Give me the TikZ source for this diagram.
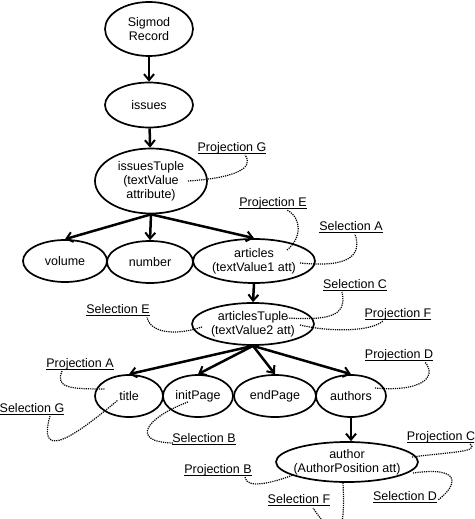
\documentclass[tikz,border=0pt]{standalone}
\usepackage{fontspec}
\setmainfont{Liberation Sans}
\usetikzlibrary{shapes.geometric,arrows.meta,calc}
\newcommand{\ulbl}[1]{\setbox0\hbox{#1}\rlap{\copy0}\rule[-3.2pt]{\wd0}{1.5pt}}

\begin{document}
\begin{tikzpicture}[x=1pt,y=-1pt,
        elem/.style={draw,ellipse,line width=1.7pt,inner sep=0pt,align=center,font=\fontsize{12.5}{14}\selectfont},
        edge/.style={line width=2.5pt,-{Straight Barb[length=6pt,width=10pt,line width=2pt]}},
        tag/.style={anchor=base,inner sep=1pt,font=\fontsize{12.5}{14}\selectfont},
        link/.style={densely dotted,line width=1.2pt}]
        \clip (0,0) rectangle (474,519);

        \node [elem,minimum width=88pt,minimum height=54pt] at (149,29) (sigmod) {Sigmod\\Record};
        \node [elem,minimum width=88pt,minimum height=45pt] at (149,105) (issues) {issues};
        \node [elem,minimum width=112pt,minimum height=65pt] at (151,181) (issuesTuple) {issuesTuple\\(textValue\\attribute)};
        \node [elem,minimum width=84pt,minimum height=42pt] at (65,261) (volume) {volume};
        \node [elem,minimum width=86pt,minimum height=42pt] at (150,262) (number) {number};
        \node [elem,minimum width=122pt,minimum height=44pt] at (254,261) (articles) {articles\\(textValue1 att)};
        \node [elem,minimum width=122pt,minimum height=42pt] at (253,324) (articlesTuple) {articlesTuple\\(textValue2 att)};
        \node [elem,minimum width=68pt,minimum height=42pt] at (129,396) (title) {title};
        \node [elem,minimum width=70pt,minimum height=42pt] at (198,396) (initPage) {initPage};
        \node [elem,minimum width=82pt,minimum height=42pt] at (275,396) (endPage) {endPage};
        \node [elem,minimum width=70pt,minimum height=42pt] at (351,396) (authors) {authors};
        \node [elem,inner xsep=-4pt,minimum width=142pt,minimum height=40pt] at (347,462) (author) {author\\(AuthorPosition att)};

        \draw [edge] (sigmod) -- (issues);
        \draw [edge] (issues) -- (issuesTuple);
        \draw [edge] (issuesTuple.south) -- (volume.north);
        \draw [edge] (issuesTuple.south) -- (number.north);
        \draw [edge] (issuesTuple.south) -- (articles.north);
        \draw [edge] (articles.south) -- (articlesTuple.north);
        \draw [edge] (articlesTuple.south) -- (title.north);
        \draw [edge] (articlesTuple.south) -- (initPage.north);
        \draw [edge] (articlesTuple.south) -- (endPage.north);
        \draw [edge] (articlesTuple.south) -- (authors.north);
        \draw [edge] (authors.south) -- (authors.south |- author.north);

        \node [tag] at (232,151) (projG) {\ulbl{Projection G}};
        \node [tag] at (273,206) (projE) {\ulbl{Projection E}};
        \node [tag] at (351,230) (selA) {\ulbl{Selection A}};
        \node [tag] at (355,288) (selC) {\ulbl{Selection C}};
        \node [tag] at (398,317) (projF) {\ulbl{Projection F}};
        \node [tag] at (118,313) (selE) {\ulbl{Selection E}};
        \node [tag] at (80,367) (projA) {\ulbl{Projection A}};
        \node [tag] at (32,412) (selG) {\ulbl{Selection G}};
        \node [tag] at (204,442) (selB) {\ulbl{Selection B}};
        \node [tag] at (399,358) (projD) {\ulbl{Projection D}};
        \node [tag] at (441,440) (projC) {\ulbl{Projection C}};
        \node [tag] at (218,473) (projB) {\ulbl{Projection B}};
        \node [tag] at (405,500) (selD) {\ulbl{Selection D}};
        \node [tag] at (299,503) (selF) {\ulbl{Selection F}};

        \draw [link] ($(issuesTuple)+(37,0)$) .. controls (235,178) and (255,168) .. ($(projG.base)+(13,4)$);
        \draw [link] ($(articles)+(33,-11)$) .. controls (302,238) and (302,218) .. ($(projE.base)+(14,4)$);
        \draw [link] ($(articles)+(46,2)$) .. controls (350,268) and (362,255) .. ($(selA.base)+(4,4)$);
        \draw [link] ($(articlesTuple)+(34,-6)$) .. controls (325,320) and (348,318) .. ($(selC.base)+(-13,4)$);
        \draw [link] ($(articlesTuple)+(47,1)$) .. controls (330,332) and (370,332) .. ($(projF.base)+(-15,4)$);
        \draw [link] ($(articlesTuple)+(-51,3)$) .. controls (175,336) and (150,333) .. ($(selE.base)+(29,4)$);
        \draw [link] ($(projA.base)+(-18,4)$) .. controls (55,388) and (70,389) .. ($(title)+(-24,-7)$);
        \draw [link] ($(selG.base)+(18,4)$) .. controls (36,465) and (80,432) .. ($(title)+(-11,4)$);
        \draw [link] ($(initPage)+(-10,6)$) .. controls (145,418) and (130,442) .. ($(selB.base)+(-31,1)$);
        \draw [link] ($(authors)+(24,-8)$) .. controls (420,392) and (438,378) .. ($(projD.base)+(26,4)$);
        \draw [link] ($(author)+(65,-5)$) .. controls (450,452) and (480,452) .. ($(projC.base)+(29,4)$);
        \draw [link] ($(author)+(66,11)$) .. controls (462,466) and (458,485) .. ($(selD.base)+(33,0)$);
        \draw [link] ($(projB.base)+(27,4)$) .. controls (246,490) and (275,482) .. ($(author)+(-54,13)$);
        \draw [link] ($(author.south)+(-4,0)$) .. controls (346,545) and (335,540) .. ($(selF.base)+(14,5)$);
      \end{tikzpicture}
\end{document}
